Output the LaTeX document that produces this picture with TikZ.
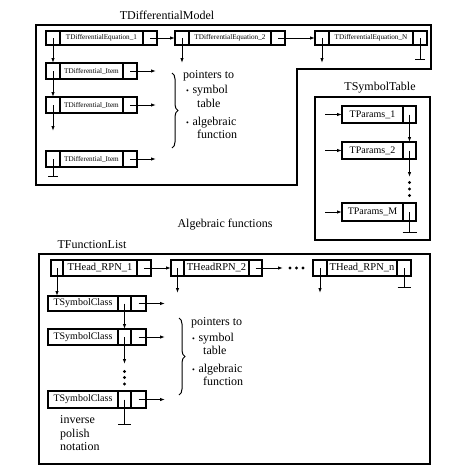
\documentclass[tikz,border=0pt]{standalone}
\usepackage{fontspec}
\setmainfont{Liberation Serif}
\usetikzlibrary{arrows.meta,decorations.pathreplacing}
\newcommand{\rcell}[7][]{\node[rec,#1,minimum width={(#4)-(#3)},minimum height={(#6)-(#5)}] (#2) at ({((#3)+(#4))/2},{((#5)+(#6))/2}) {#7};}
\tikzset{
  rec/.style={draw,line width=1.2pt,inner sep=0pt,outer sep=0pt},
  tinyf/.style={font=\fontsize{7.2}{8}\selectfont},
  midf/.style={font=\fontsize{10}{12}\selectfont},
  headf/.style={font=\fontsize{10.5}{12}\selectfont},
  ttl/.style={font=\fontsize{12}{14}\selectfont,inner sep=0pt},
  txt/.style={font=\fontsize{12}{14}\selectfont,inner sep=0pt,anchor=west,text height=8pt,text depth=2.5pt},
  frame/.style={draw,line width=1.4pt},
  arr/.style={line width=0.9pt,-{Latex[length=5pt,width=3.5pt]}},
  ln/.style={line width=0.9pt},
  dotf/.style={fill,radius=1.6pt},
  brc/.style={decorate,decoration={brace,amplitude=6pt},line width=1pt},
}
\begin{document}
\begin{tikzpicture}[x=1pt,y=-1pt]
\useasboundingbox (0,0) rectangle (474,474);
% ---------------- TDifferentialModel
\node[ttl] (tdm) at (167,15) {TDifferentialModel};
\draw[frame] (36,25) -- (431,25) -- (431,69) -- (297,69) -- (297,185) -- (36,185) -- cycle;
\rcell{e1l}{46}{60}{31}{45}{}
\rcell[tinyf]{e1t}{60}{143}{31}{45}{TDifferentialEquation\_1}
\rcell{e1r}{143}{157}{31}{45}{}
\rcell{e2l}{175}{189}{31}{45}{}
\rcell[tinyf]{e2t}{189}{271}{31}{45}{TDifferentialEquation\_2}
\rcell{e2r}{271}{285}{31}{45}{}
\rcell{enl}{315}{329}{31}{45}{}
\rcell[tinyf]{ent}{329}{413}{31}{45}{TDifferentialEquation\_N}
\rcell{enr}{413}{427}{31}{45}{}
\draw[arr] (e1r.center) -- (e2l.west);
\draw[arr] (e2r.center) -- (enl.west);
\coordinate (e2d) at (182,63);
\coordinate (end) at (322,63);
\draw[arr] (e2l.center) -- (e2d);
\draw[arr] (enl.center) -- (end);
\coordinate (eng) at (420,59);
\draw[ln] (enr.center) -- (eng);
\draw[ln] ([xshift=-5pt]eng) -- ([xshift=5pt]eng);
% items
\rcell{i1l}{46}{60}{63}{79}{}
\rcell[tinyf]{i1t}{60}{123}{63}{79}{TDifferential\_Item}
\rcell{i1r}{123}{137}{63}{79}{}
\rcell{i2l}{46}{60}{97}{113}{}
\rcell[tinyf]{i2t}{60}{123}{97}{113}{TDifferential\_Item}
\rcell{i2r}{123}{137}{97}{113}{}
\rcell{i3l}{46}{60}{151}{167}{}
\rcell[tinyf]{i3t}{60}{123}{151}{167}{TDifferential\_Item}
\rcell{i3r}{123}{137}{151}{167}{}
\coordinate (i1a) at (156,71);
\coordinate (i2a) at (156,105);
\coordinate (i3a) at (156,159);
\draw[arr] (i1r.center) -- (i1a);
\draw[arr] (i2r.center) -- (i2a);
\draw[arr] (i3r.center) -- (i3a);
\draw[arr] (e1l.center) -- (i1l.north);
\draw[arr] (i1l.center) -- (i2l.north);
\coordinate (i2d) at (53,131);
\draw[arr] (i2l.center) -- (i2d);
\coordinate (i3g) at (53,176);
\draw[ln] (i3l.center) -- (i3g);
\draw[ln] ([xshift=-5pt]i3g) -- ([xshift=5pt]i3g);
% brace 1
\coordinate (b1a) at (172,73);
\coordinate (b1b) at (172,148);
\draw[brc] (b1a) -- (b1b);
\node[txt] (p1a) at (183,76) {pointers to};
\node[txt] (p1b) at (186,91) {{\fontsize{8}{9}\selectfont\textbullet}\hspace{3.5pt}symbol};
\node[txt] (p1c) at (197,105) {table};
\node[txt] (p1d) at (186,123) {{\fontsize{8}{9}\selectfont\textbullet}\hspace{3.5pt}algebraic};
\node[txt] (p1e) at (197,136) {function};
% ---------------- TSymbolTable
\node[ttl] (tst) at (380,88) {TSymbolTable};
\draw[frame] (315,97) rectangle (430,240);
\rcell[midf]{p1t}{342}{403}{106}{123}{TParams\_1}
\rcell{p1r}{403}{416}{106}{123}{}
\rcell[midf]{p2t}{342}{403}{142}{159}{TParams\_2}
\rcell{p2r}{403}{416}{142}{159}{}
\rcell[midf]{pmt}{342}{403}{203}{221}{TParams\_M}
\rcell{pmr}{403}{416}{203}{221}{}
\coordinate (q1) at (325,114.5);
\coordinate (q2) at (325,150.5);
\coordinate (qm) at (325,212);
\draw[arr] (q1) -- (p1t.west);
\draw[arr] (q2) -- (p2t.west);
\draw[arr] (qm) -- (pmt.west);
\draw[arr] (p1r.center) -- (p2r.north);
\coordinate (p2d) at (409.5,177);
\draw[arr] (p2r.center) -- (p2d);
\fill[dotf] (409.5,182.5) circle;
\fill[dotf] (409.5,189) circle;
\fill[dotf] (409.5,195.5) circle;
\coordinate (pmg) at (409.5,232);
\draw[ln] (pmr.center) -- (pmg);
\draw[ln] ([xshift=-7pt]pmg) -- ([xshift=7pt]pmg);
% ---------------- Algebraic functions
\node[ttl] (alg) at (225,225) {Algebraic functions};
\node[ttl] (tfl) at (92,245) {TFunctionList};
\draw[frame] (39,254) rectangle (430,464);
\rcell{h1l}{51}{63}{260}{276}{}
\rcell[headf]{h1t}{63}{137}{260}{276}{THead\_RPN\_1}
\rcell{h1r}{137}{151}{260}{276}{}
\rcell{h2l}{171}{184}{260}{276}{}
\rcell[headf]{h2t}{184}{249}{260}{276}{THeadRPN\_2}
\rcell{h2r}{249}{262}{260}{276}{}
\rcell{hnl}{313}{327}{260}{276}{}
\rcell[headf]{hnt}{327}{397}{260}{276}{THead\_RPN\_n}
\rcell{hnr}{397}{411}{260}{276}{}
\draw[arr] (h1r.center) -- (h2l.west);
\coordinate (h2a) at (283,268);
\draw[arr] (h2r.center) -- (h2a);
\fill[dotf] (290,268) circle;
\fill[dotf] (296.5,268) circle;
\fill[dotf] (303,268) circle;
\coordinate (h2d) at (177.5,293);
\coordinate (hnd) at (320,293);
\draw[arr] (h2l.center) -- (h2d);
\draw[arr] (hnl.center) -- (hnd);
\coordinate (hng) at (404,287);
\draw[ln] (hnr.center) -- (hng);
\draw[ln] ([xshift=-6.5pt]hng) -- ([xshift=6.5pt]hng);
% symbol classes
\rcell[midf]{s1t}{48}{118}{296}{311}{TSymbolClass}
\rcell{s1m}{118}{131}{296}{311}{}
\rcell{s1r}{131}{146}{296}{311}{}
\rcell[midf]{s2t}{48}{118}{329}{345}{TSymbolClass}
\rcell{s2m}{118}{131}{329}{345}{}
\rcell{s2r}{131}{146}{329}{345}{}
\rcell[midf]{s3t}{48}{118}{391}{408}{TSymbolClass}
\rcell{s3m}{118}{131}{391}{408}{}
\rcell{s3r}{131}{146}{391}{408}{}
\draw[arr] (h1l.center) -- (h1l.center |- s1t.north);
\coordinate (s1a) at (165,303.5);
\coordinate (s2a) at (165,337);
\coordinate (s3a) at (165,399.5);
\draw[arr] (s1r.center) -- (s1a);
\draw[arr] (s2r.center) -- (s2a);
\draw[arr] (s3r.center) -- (s3a);
\draw[arr] (s1m.center) -- (s2m.north);
\coordinate (s2d) at (124.5,364);
\draw[arr] (s2m.center) -- (s2d);
\fill[dotf] (124.5,371.5) circle;
\fill[dotf] (124.5,377.5) circle;
\fill[dotf] (124.5,384) circle;
\coordinate (s3g) at (124.5,424);
\draw[ln] (s3m.center) -- (s3g);
\draw[ln] ([xshift=-6.5pt]s3g) -- ([xshift=6.5pt]s3g);
\node[txt] (ipn1) at (60,421) {inverse};
\node[txt] (ipn2) at (60,434.5) {polish};
\node[txt] (ipn3) at (60,448) {notation};
% brace 2
\coordinate (b2a) at (179,318);
\coordinate (b2b) at (179,395);
\draw[brc] (b2a) -- (b2b);
\node[txt] (p2a) at (191,323) {pointers to};
\node[txt] (p2b) at (192,339) {{\fontsize{8}{9}\selectfont\textbullet}\hspace{3.5pt}symbol};
\node[txt] (p2c) at (203,352) {table};
\node[txt] (p2d) at (192,370) {{\fontsize{8}{9}\selectfont\textbullet}\hspace{3.5pt}algebraic};
\node[txt] (p2e) at (203,382.5) {function};
\end{tikzpicture}
\end{document}
